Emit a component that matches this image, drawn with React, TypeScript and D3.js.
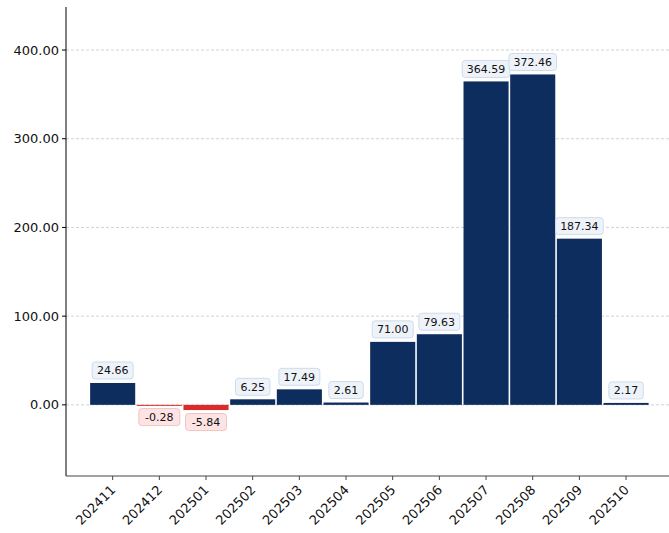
import React from "react";
import * as d3 from "d3";

const categories = ["202411","202412","202501","202502","202503","202504","202505","202506","202507","202508","202509","202510"];
const values = [24.66,-0.28,-5.84,6.25,17.49,2.61,71.0,79.63,364.59,372.46,187.34,2.17];
const yTicks = [0,100,200,300,400];

const W = 669, H = 533;
const m = { left: 66, right: 0, top: 7, bottom: 57 };

export default function App() {
  const x = d3.scaleLinear().domain([-1, 11.92]).range([m.left, W - m.right]);
  const y = d3.scaleLinear().domain([-80.2, 448.5]).range([H - m.bottom, m.top]);
  const step = x(1) - x(0);
  const bw0 = step - 1.6;
  const navy = "#0d2d5e";
  const red = "#d92b2b";
  const font = "DejaVu Sans, sans-serif";
  return (
    <svg width={W} height={H} style={{ position: "absolute", left: 0, top: 0 }} fontFamily={font}>
      <rect width={W} height={H} fill="#fff" />
      {yTicks.map(t => (
        <line key={"g" + t} x1={m.left} x2={W} y1={y(t)} y2={y(t)} stroke="#c8c8c8" strokeWidth={0.8} strokeDasharray="3,2" />
      ))}
      {values.map((v, i) => {
        const x0 = x(i) - bw0 / 2;
        const h = Math.max(Math.abs(y(v) - y(0)), 1);
        const y0 = v >= 0 ? y(0) - h : y(0);
        return (
          <rect key={"b" + i} x={x0} y={y0} width={bw0} height={h} fill={v >= 0 ? navy : red} />
        );
      })}
      {values.map((v, i) => {
        const label = v.toFixed(2);
        const tw = label.length * 6.6;
        const bw = tw + 8, bh = 17;
        const cx = x(i);
        const pos = v >= 0;
        const cy = pos ? y(v) - 4 - bh / 2 : y(Math.min(v, 0)) + 3.5 + bh / 2;
        return (
          <g key={"l" + i}>
            <rect x={cx - bw / 2} y={cy - bh / 2} width={bw} height={bh} rx={3} ry={3}
              fill={pos ? "#eef3fa" : "#fde3e3"} stroke={pos ? "#cfdbea" : "#f0c4c4"} strokeWidth={1} />
            <text x={cx} y={cy} dy="0.36em" textAnchor="middle" fontSize={11} fill="#111">{label}</text>
          </g>
        );
      })}
      <line x1={m.left} x2={m.left} y1={m.top} y2={H - m.bottom} stroke="#000" strokeWidth={1} />
      <line x1={m.left} x2={W} y1={H - m.bottom} y2={H - m.bottom} stroke="#444" strokeWidth={1} />
      {yTicks.map(t => (
        <g key={"yt" + t}>
          <line x1={m.left - 4} x2={m.left} y1={y(t)} y2={y(t)} stroke="#000" />
          <text x={m.left - 7} y={y(t)} dy="0.35em" textAnchor="end" fontSize={13} fill="#111">{t.toFixed(2)}</text>
        </g>
      ))}
      {categories.map((c, i) => (
        <g key={"xt" + i}>
          <line x1={x(i)} x2={x(i)} y1={H - m.bottom} y2={H - m.bottom + 4} stroke="#444" />
          <text transform={`translate(${x(i) - 3},${H - m.bottom + 8}) rotate(-45)`} textAnchor="end" dy="0.73em" fontSize={13} fill="#111">{c}</text>
        </g>
      ))}
    </svg>
  );
}
